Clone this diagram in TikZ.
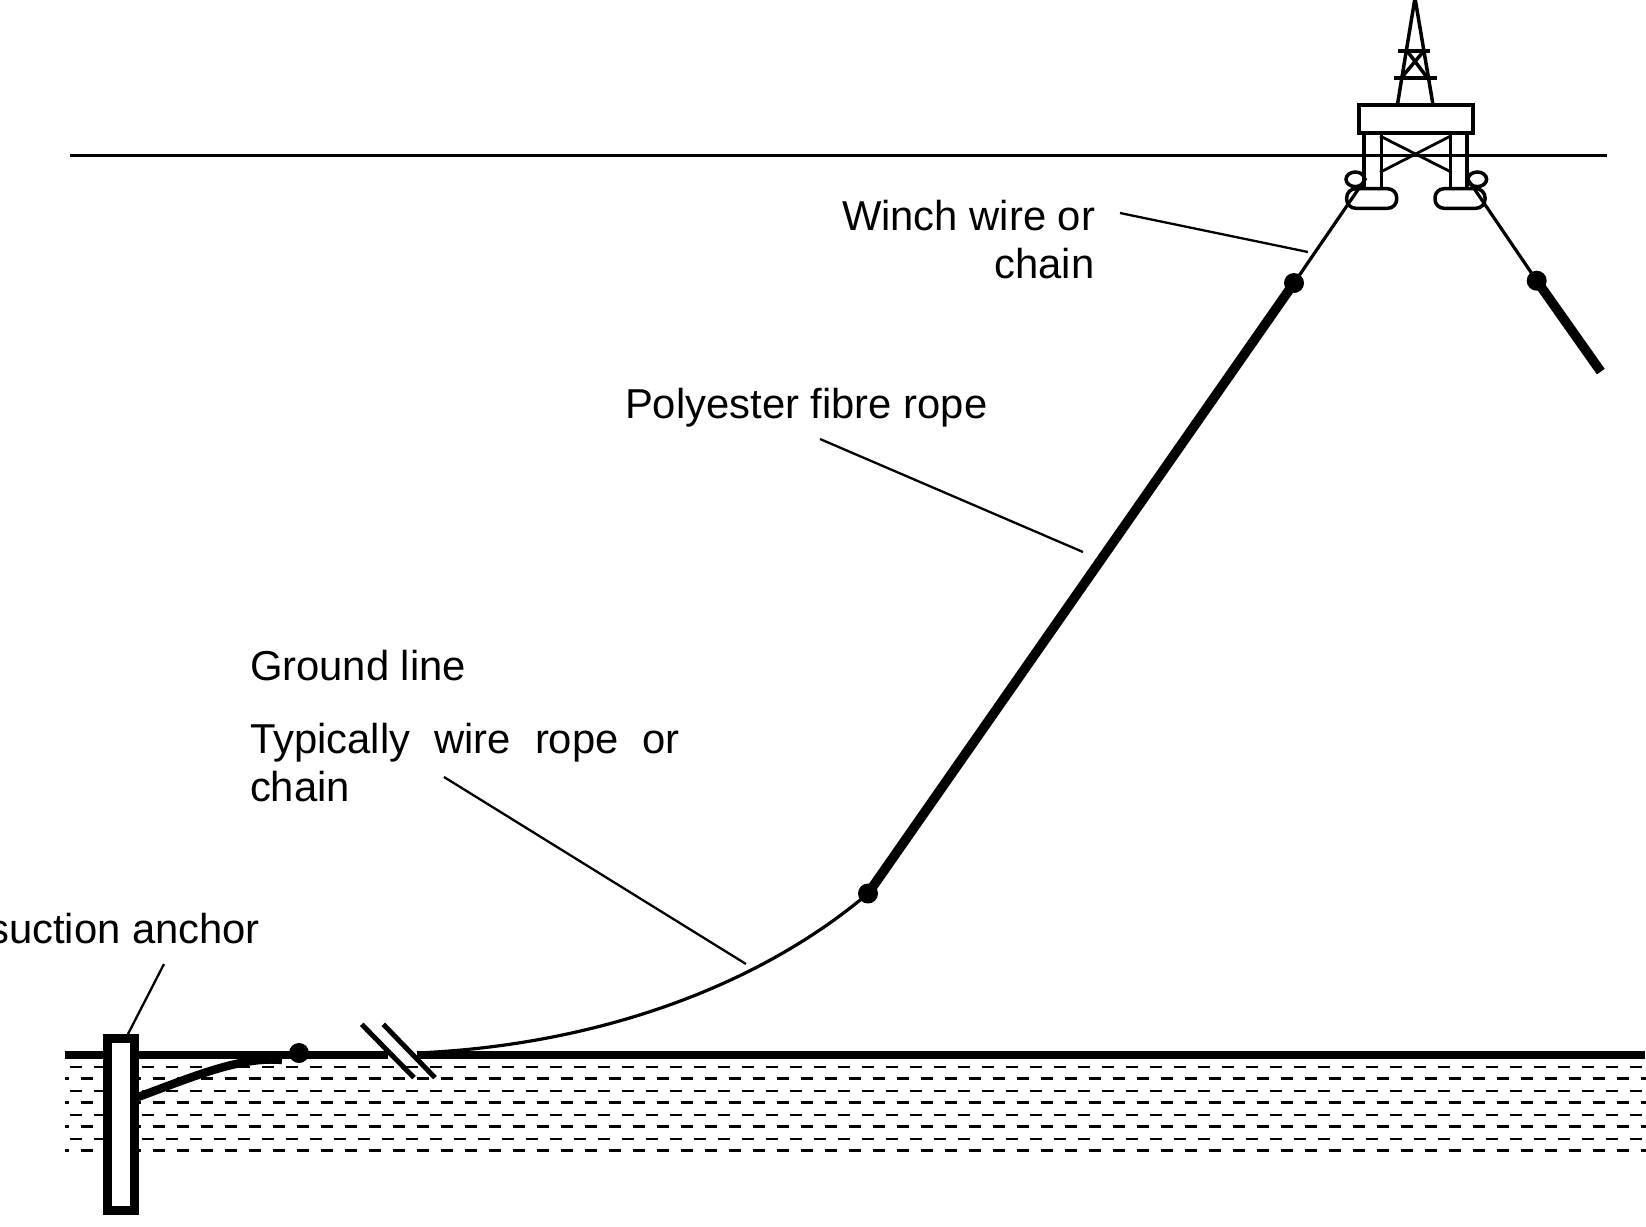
\documentclass[tikz,border=0pt]{standalone}
\usepackage{fontspec}
\setmainfont{Liberation Sans}
\tikzset{
  every node/.style={inner sep=0pt,outer sep=0pt,font=\fontsize{20.9pt}{24pt}\selectfont},
  lbl/.style={anchor=base west},
  lblr/.style={anchor=base east},
  leader/.style={draw=black,line width=1.15pt},
  thinwire/.style={draw=black,line width=1.6pt},
  rope/.style={draw=black,line width=4.8pt},
  bead/.style={circle,fill=black,minimum size=10pt},
  rigline/.style={draw=black,line width=1.75pt},
  soilA/.style={draw=black,line width=.9pt,dash pattern=on 6pt off 6pt},
  soilB/.style={draw=black,line width=1.25pt,dash pattern=on 6pt off 6pt,dash phase=4pt},
}
\begin{document}
\begin{tikzpicture}[x=0.5pt,y=-0.5pt]
\useasboundingbox (0,0) rectangle (1646,1227);
% water
\coordinate (wl) at (70,155.5); \coordinate (wr) at (1607,155.5);
\draw[line width=1.4pt] (wl) -- (wr);
% soil
\foreach \y in {1067,1091,1115,1139} \draw[soilA] (70,\y) -- (1646,\y);
\foreach \y in {1078.3,1102.3,1126.3,1150.3} \draw[soilB] (65,\y) -- (1646,\y);
% ground
\draw[line width=4.2pt] (65,1054.7) -- (388,1054.7);
\draw[line width=4.2pt] (417,1054.7) -- (1645,1054.7);
\draw[line width=2.5pt] (361.7,1024.3) -- (414,1077.7);
\draw[line width=2.5pt] (383.3,1024.3) -- (435,1077.7);
% anchor
\node[draw=black,fill=white,line width=4.3pt,minimum width=13.5pt,minimum height=86pt,anchor=center] (anchor) at (121.2,1124.4) {};
% beads
\node[bead] (b1) at (299,1053) {};
\node[bead] (b2) at (868,893.5) {};
\node[bead] (b3) at (1294,283) {};
\node[bead] (b4) at (1536.7,280.7) {};
\coordinate (ra) at (1600.8,371.6);
\coordinate (w1) at (1366,178);
\coordinate (w2) at (1468.3,180);
\coordinate (gs) at (417,1053);
% chain at anchor
\draw[line width=4.2pt] (138,1097) .. controls (190,1078) and (240,1056) .. (282,1060);
% ground wire
\draw[line width=1.6pt] (gs) .. controls (600,1045) and (760,985) .. (b2.center);
% ropes
\draw[rope] (b2.center) -- (b3.center);
\draw[rope] (b4.center) -- (ra);
\draw[thinwire] (b3.center) -- (w1);
\draw[thinwire] (b4.center) -- (w2);
% platform
\draw[line width=2.2pt] (1364,133) -- (1364,189);
\draw[rigline] (1381.3,133) -- (1381.3,189);
\draw[rigline] (1450.7,133) -- (1450.7,189);
\draw[rigline] (1467,133) -- (1467,189);
\draw[line width=1.4pt] (1380,136) -- (1451.7,172.3);
\draw[line width=1.4pt] (1450.7,136) -- (1380,172.3);
\draw[rigline,rounded corners=4.5pt] (1346.7,188.7) rectangle (1396.7,208.3);
\draw[rigline,rounded corners=4.5pt] (1435,188.7) rectangle (1485,208.3);
\draw[rigline] (1355.3,179.3) ellipse [x radius=9.3,y radius=7.3];
\draw[rigline] (1477.3,179.3) ellipse [x radius=9.3,y radius=7.3];
\draw[line width=2pt] (1359,105) rectangle (1473,132.5);
% derrick
\coordinate (apex) at (1415,-2);
\draw[rigline] (apex) -- (1397.7,103);
\draw[rigline] (apex) -- (1432.7,103);
\draw[rigline] (1398,51) -- (1430,51);
\draw[rigline] (1394,78) -- (1437,78);
\draw[rigline] (1407.7,51.7) -- (1426.7,77);
\draw[rigline] (1423,52) -- (1402,77);
% texts
\node[lbl] (t1) at (842,230) {Winch wire or};
\node[lblr] (t2) at (1094.5,278) {chain};
\node[lbl] (t3) at (625,418) {Polyester fibre rope};
\node[lbl] (t4) at (250,680) {Ground line};
\node[lbl] (t5) at (250,753) {\makebox[215pt][s]{Typically wire rope or}};
\node[lbl] (t6) at (250,801) {chain};
\node[lblr] (t7) at (260,943) {suction anchor};
% leaders
\coordinate (l1a) at (1120,213); \coordinate (l1b) at (1308,252);
\coordinate (l2a) at (820,439); \coordinate (l2b) at (1083,552);
\coordinate (l3a) at (444,777); \coordinate (l3b) at (746,964);
\coordinate (l4a) at (164,964); \coordinate (l4b) at (128,1034);
\draw[leader] (l1a) -- (l1b);
\draw[leader] (l2a) -- (l2b);
\draw[leader] (l3a) -- (l3b);
\draw[leader] (l4a) -- (l4b);
\end{tikzpicture}
\end{document}
